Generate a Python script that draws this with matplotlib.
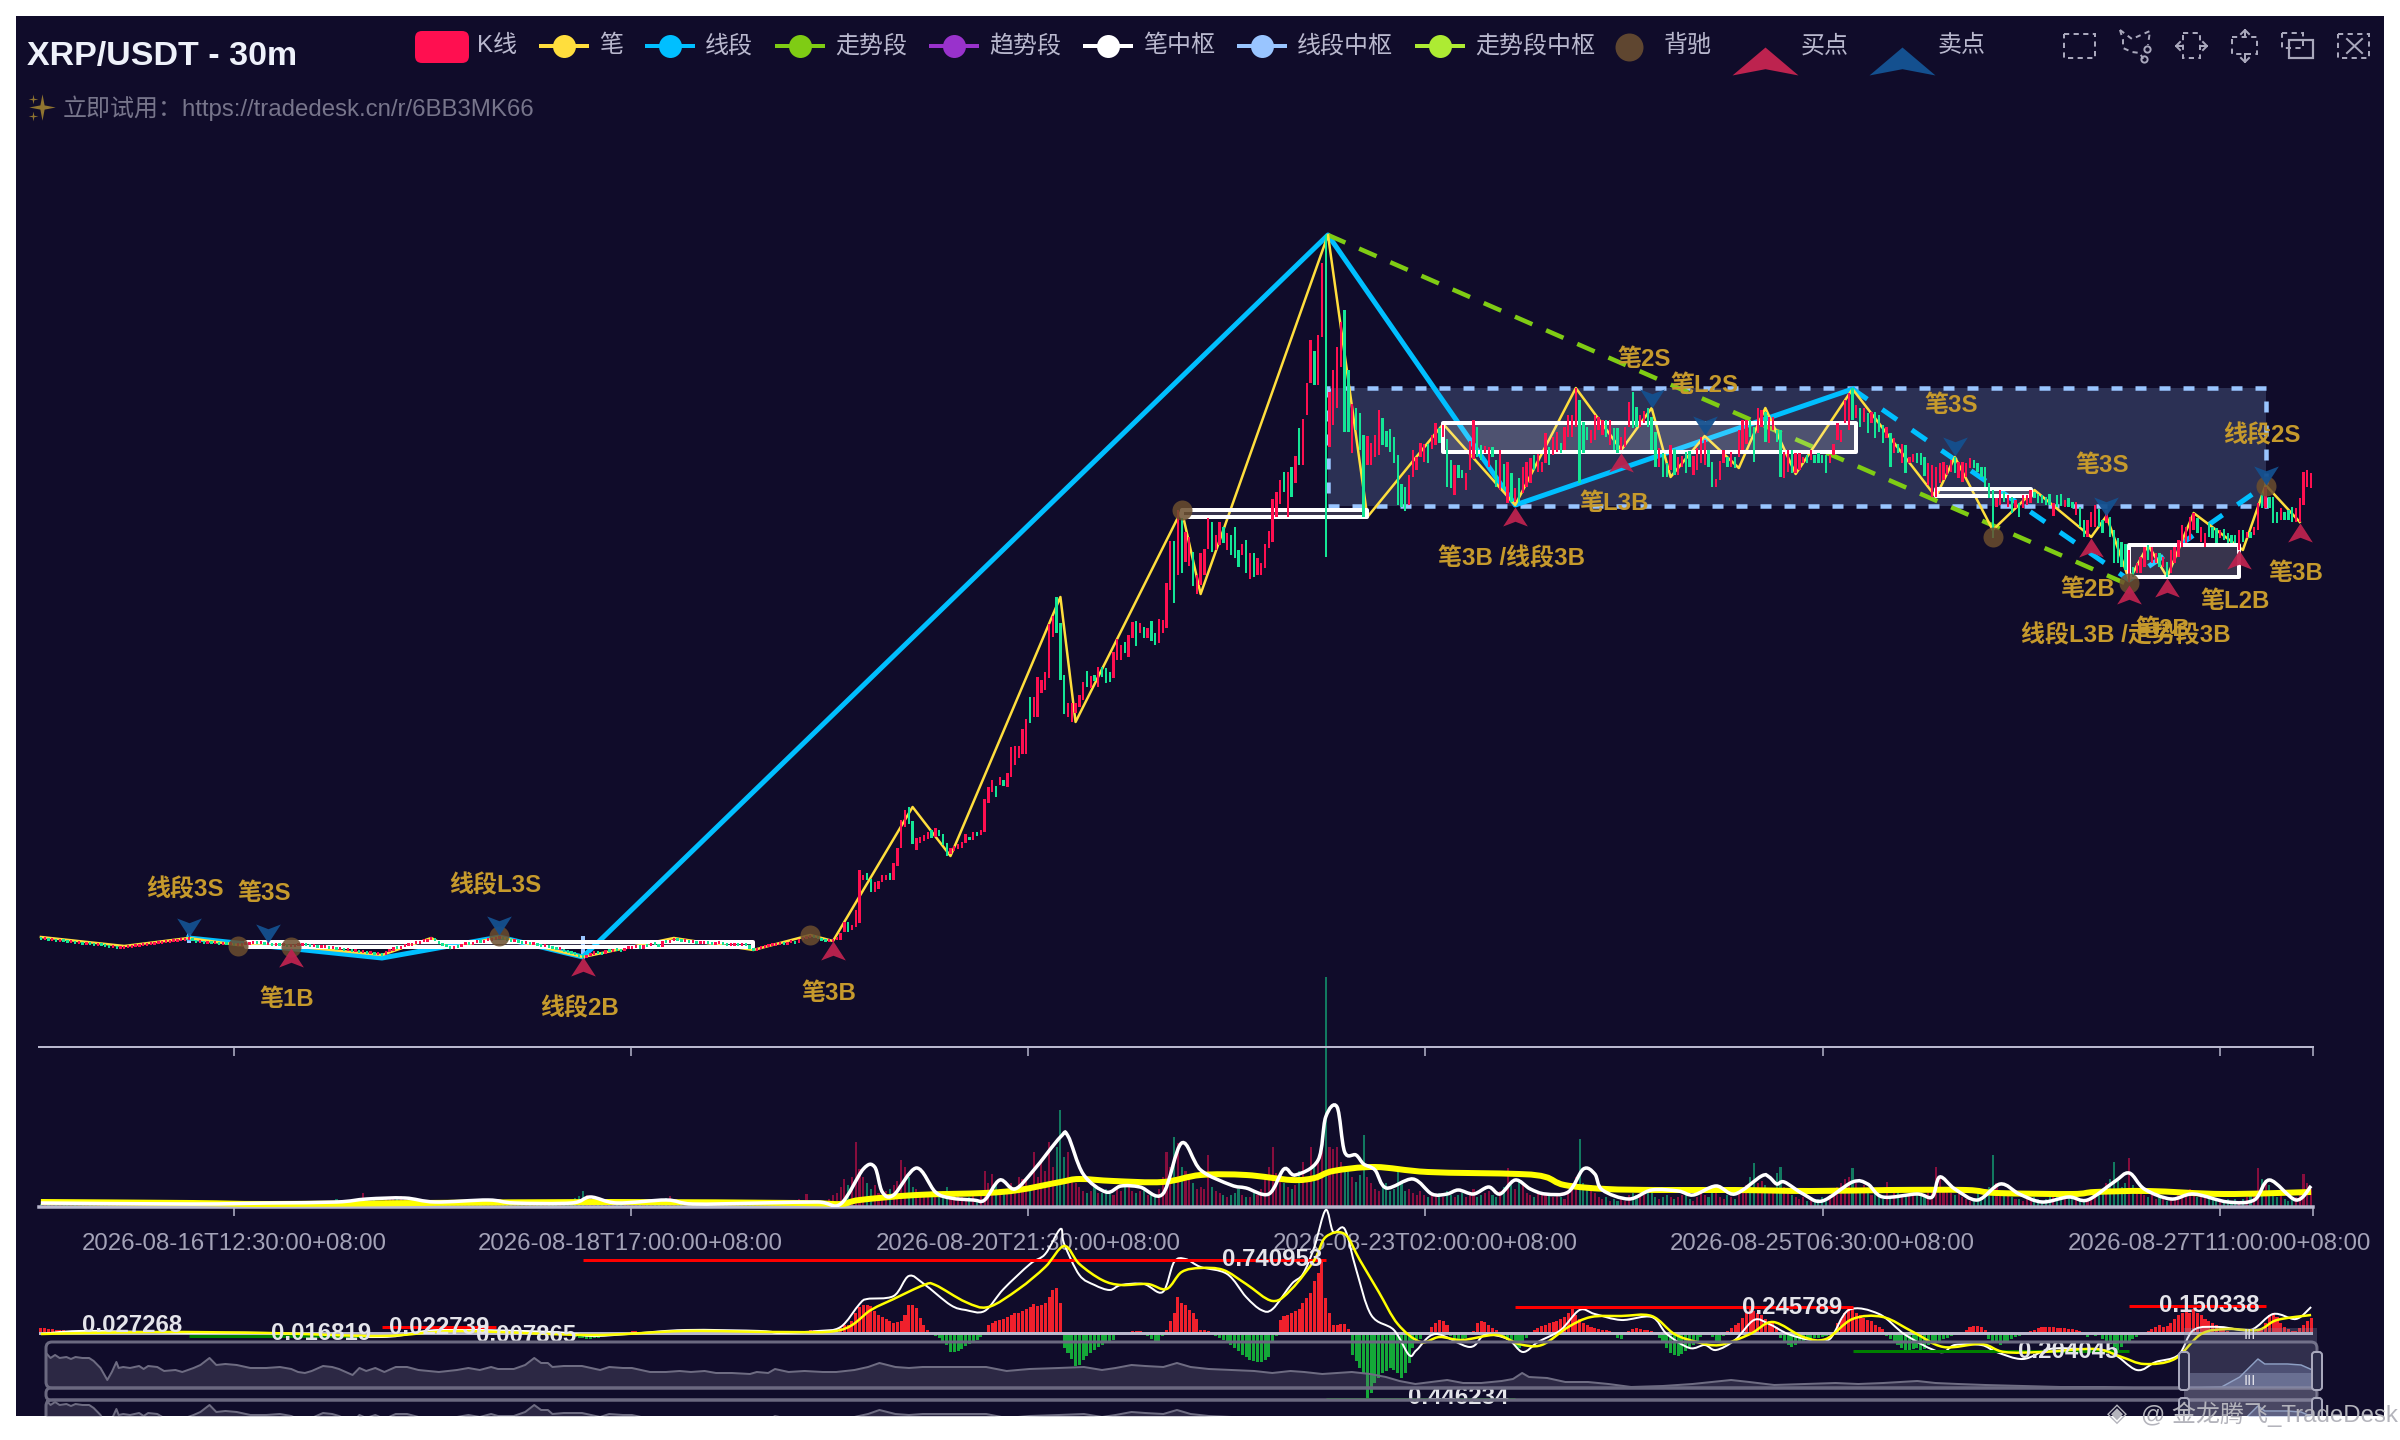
import numpy as np
import matplotlib
matplotlib.use('Agg')
import matplotlib.pyplot as plt
from matplotlib import font_manager
from matplotlib.ft2font import FT2Font
from matplotlib.path import Path
from matplotlib.patches import Rectangle, FancyBboxPatch, PathPatch

W, H = 2400, 1440
PX = 0.72  # one pixel in points at dpi 100

plt.rcParams['font.family'] = ['Liberation Sans', 'Noto Sans CJK SC', 'DejaVu Sans']

# candle bars (price read as height above the main axis)
k_open = [
    110,108,108,107,107,106,107,106,105,105,104,104,103,104,103,102,103,102,101,100,100,99,99,
    100,100,101,101,102,102,103,103,104,104,105,105,106,106,107,107,108,
    109,106,105,105,104,105,104,104,103,104,103,103,102,
    102,103,103,104,105,104,104,103,103,102,103,102,102,101,
    101,102,102,103,102,101,101,100,100,101,99,99,98,98,97,97,96,96,95,95,94,94,93,93,
    92,96,96,100,99,101,102,102,104,104,106,106,108,
    109,106,104,102,101,
    99,101,100,103,104,103,105,106,105,107,107,108,109,
    110,108,107,106,106,105,104,105,103,103,102,101,102,100,99,98,98,96,95,94,93,91,
    90,92,92,96,94,93,97,96,98,97,96,99,99,100,102,98,102,101,104,103,100,106,105,107,
    109,107,106,106,105,105,104,104,105,104,103,104,105,103,102,102,103,102,104,102,98,
    97,99,100,101,102,102,103,104,103,105,106,104,108,109,110,
    112,110,109,107,106,
    106,107,107,115,125,117,120,124,167,174,168,155,158,165,167,174,167,181,199,220,
    240,226,197,204,206,208,217,210,217,213,204,193,196,198,199,204,210,207,215,212,
    215,244,255,261,262,267,260,270,282,289,293,293,350,330,330,354,357,369,410,450,
    424,372,330,325,334,340,347,376,359,372,360,380,379,375,369,387,387,405,390,409,
    426,414,420,409,426,414,404,414,419,457,506,472,529,485,481,495,453,462,472,498,
    525,497,502,520,497,512,520,497,492,507,468,494,472,472,479,499,505,530,543,575,
    530,580,564,619,582,632,664,696,662,710,812,600,622,639,680,737,677,594,639,634,
    612,582,582,590,592,629,616,618,610,592,563,560,542,570,577,590,585,603,598,602,
    619,610,608,587,552,582,577,557,577,588,620,602,594,580,600,587,557,583,544,574,
    545,569,554,560,564,592,575,575,584,600,592,595,604,597,610,610,620,647,625,620,
    604,607,617,612,627,602,619,619,597,600,620,655,640,620,624,639,630,615,580,594,
    584,577,598,572,580,595,596,572,577,584,582,597,585,560,567,584,590,580,590,590,
    597,603,627,620,614,620,635,604,617,617,617,569,575,597,574,577,584,592,587,592,
    594,592,592,584,592,607,605,624,617,659,629,639,625,634,624,635,632,622,609,614,
    594,603,584,602,584,585,594,594,590,562,550,550,564,567,572,575,590,569,565,570,
    579,587,584,580,580,564,557,540,542,555,540,550,539,544,539,542,544,555,553,552,
    550,553,531,552,553,540,549,545,532,540,527,510,520,520,538,527,524,530,517,509,
    505,503,465,480,474,474,480,502,484,484,494,480,485,474,484,490,500,504,507,517,
    529,505,500,524,520,519,509,518,514,512,512,497,517,509,515,512,517,554,539,550,
    550,535,527,535,537,540,525,525,542,560,559,
]
k_close = [
    108,108,107,107,106,106,106,105,105,104,104,103,103,103,102,102,102,101,100,100,99,99,100,
    100,101,101,102,102,103,103,104,104,105,105,106,106,107,107,108,109,
    106,105,105,104,105,104,104,103,104,103,103,102,102,
    103,103,104,105,104,104,103,103,102,103,102,102,101,101,
    102,102,103,102,101,101,100,100,101,99,99,98,98,97,97,96,96,95,95,94,94,93,93,92,
    96,96,100,99,101,102,102,104,104,106,106,108,109,
    106,104,102,101,99,
    101,100,103,104,103,105,106,105,107,107,108,109,110,
    108,107,106,106,105,104,105,103,103,102,101,102,100,99,98,98,96,95,94,93,91,90,
    92,92,96,94,93,97,96,98,97,96,99,99,100,102,98,102,101,104,103,100,106,105,107,109,
    107,106,106,105,105,104,104,105,104,103,104,105,103,102,102,103,102,104,102,98,97,
    99,100,101,102,102,103,104,103,105,106,104,108,109,110,112,
    110,109,107,106,106,
    107,110,114,125,115,122,137,177,172,167,155,165,166,172,172,167,184,199,227,237,
    223,203,209,210,212,215,209,219,211,202,191,199,201,203,205,213,207,215,211,217,
    248,260,267,250,270,261,274,300,301,301,318,328,324,350,370,367,375,423,431,414,
    367,333,344,344,344,352,365,360,371,366,380,370,364,365,395,408,402,394,412,425,
    401,424,409,419,406,402,428,427,464,506,444,537,474,515,510,461,472,494,498,529,
    495,512,525,504,514,492,489,480,503,474,494,470,489,484,503,516,548,555,567,555,
    575,550,591,582,628,664,707,662,712,784,490,655,677,700,725,615,615,643,617,597,
    530,611,604,612,637,602,600,595,584,542,540,536,572,597,590,604,603,584,612,624,
    604,622,560,559,582,569,569,574,606,627,590,587,601,600,590,560,597,557,585,545,
    559,545,580,585,589,577,593,585,614,582,610,615,594,620,632,632,659,564,594,607,
    617,632,630,627,610,627,597,594,610,620,645,619,620,632,636,620,597,580,599,570,
    570,602,572,590,591,574,580,591,599,610,607,580,560,568,586,597,580,595,579,617,
    627,627,610,585,639,637,605,630,630,605,570,595,597,574,594,594,590,584,597,584,
    584,584,574,592,603,624,617,647,654,627,642,620,639,614,635,609,615,604,620,580,
    609,594,603,574,590,593,584,582,571,584,582,580,584,585,582,587,574,585,585,584,
    589,579,575,570,560,549,509,549,557,545,552,534,547,530,552,552,557,549,544,544,
    542,542,544,540,541,547,540,539,545,520,510,527,535,542,520,514,537,510,484,484,
    480,477,497,470,484,490,500,487,500,494,480,490,470,497,500,507,522,520,530,534,
    514,520,514,510,509,504,517,507,504,504,504,517,505,515,509,520,544,539,560,539,
    524,524,539,527,527,525,539,549,575,577,574,
]

# volume bars, same colour as the candle above
volume = [
    3,5,2,4,3,2,4,6,3,2,4,3,5,2,3,4,2,3,5,2,
    4,3,2,3,2,4,2,3,5,2,3,2,4,3,2,3,2,3,4,2,
    1,2,3,2,1,2,3,1,2,2,3,2,2,1,2,3,2,3,2,3,
    5,6,4,3,2,3,2,2,3,4,3,2,3,3,4,5,4,5,8,5,
    4,5,6,8,9,14,8,6,7,5,6,8,9,10,9,11,8,6,5,5,
    3,3,4,5,4,6,5,7,6,5,4,5,6,7,5,4,3,4,4,5,
    7,8,6,5,4,4,3,4,3,3,4,3,2,3,4,4,3,3,4,5,
    7,9,11,16,12,9,7,8,6,5,4,4,5,3,4,3,5,4,3,3,
    4,5,7,6,7,9,11,8,6,5,4,4,3,3,2,4,3,3,4,3,
    3,4,3,3,5,6,4,4,3,3,3,3,2,3,4,3,4,5,6,5,
    8,7,13,6,7,5,4,3,8,12,14,20,28,22,30,65,38,30,24,18,
    22,14,12,16,18,22,26,47,40,30,20,18,14,12,10,14,12,14,16,20,
    10,12,14,10,8,10,12,8,14,36,24,33,22,18,14,18,24,20,30,28,
    26,22,55,30,48,36,65,40,60,97,50,55,30,24,20,16,14,16,20,14,
    14,18,14,12,18,16,20,24,16,14,16,18,12,12,10,18,30,55,40,70,
    64,40,36,30,24,18,20,18,52,20,16,14,12,10,12,14,18,12,10,10,
    14,12,18,30,40,60,34,28,24,20,18,22,36,45,30,60,40,48,60,230,
    60,58,60,45,40,36,30,25,32,72,30,24,18,16,20,24,16,18,40,24,
    16,18,14,12,16,12,10,14,12,14,10,16,12,10,12,14,10,14,18,10,
    12,14,16,12,10,16,20,39,22,18,28,24,14,12,10,14,12,14,12,10,
    12,10,8,14,24,30,68,24,20,22,14,10,8,10,6,8,6,8,6,12,
    14,12,10,12,14,16,10,8,10,12,10,8,10,12,16,8,6,10,14,12,
    10,18,14,10,8,12,10,8,14,18,22,30,44,24,26,22,18,16,34,40,
    20,14,12,10,8,10,6,8,6,8,10,8,12,18,20,24,28,30,39,24,
    18,22,16,12,14,10,8,25,10,14,18,12,10,12,14,18,14,12,20,16,
    40,30,20,16,14,12,16,10,8,6,8,14,10,16,20,52,24,16,12,14,
    10,8,8,6,8,6,10,8,6,8,10,14,10,8,10,12,8,10,8,6,
    8,10,12,14,18,24,28,45,26,20,24,49,22,18,14,12,10,12,8,10,
    8,6,10,8,12,14,16,18,12,10,14,12,8,8,6,8,6,8,6,8,
    6,8,10,12,14,39,28,24,22,14,10,12,8,6,8,10,14,33,24,18,
]
vol_ma5_idx = [0,40,60,78,86,96,104,118,125,140,145,152,165,172,190,205,211,217,220,222,225,231,236,240,246,249,253,257,262,269,271,275,281,285,290,296,301,306,
    314,318,324,328,331,337,339,342,344,347,349,352,355,362,367,371,374,378,382,385,389,393,397,403,407,410,412,419,425,432,436,442,447,454,456,458,460,465,470,478,482,486,495,499,501,505,511,517,522,528,535,540,547,551,555,562,568,577,584,588,595,599]
vol_ma5 = [4,3,4,5,8,9,5,7,4,4,10,4,7,3,4,5,3,38,40,15,12,39,15,9,7,7,27,18,37,70,71,33,15,21,20,13,64,37,
    22,19,13,38,32,47,90,100,55,52,43,37,19,28,13,13,17,13,20,13,27,18,13,15,38,33,17,8,17,16,12,21,13,31,30,23,25,13,6,25,23,10,13,10,30,18,7,23,13,5,10,7,25,34,18,8,13,5,7,27,7,21]
vol_ma20_idx = [0,40,60,100,150,200,211,216,231,249,258,269,274,283,296,306,318,330,336,341,352,366,390,397,402,413,427,447,467,488,508,516,536,542,556,576,599]
vol_ma20 = [5,4,3,4,5,4,3,7,12,14,17,25,28,26,25,32,32,27,29,36,40,35,33,30,22,18,17,17,16,17,17,14,13,15,16,13,15]

# macd histogram, in hundredths
macd_hist = [
    5,5,4,4,3,3,3,2,2,1,
    1,1,1,0,0,1,1,0,0,1,0,0,-1,-1,0,0,-1,0,1,1,1,0,1,1,0,0,1,1,0,0,
    -1,-1,-1,-1,-1,-1,-1,-1,-1,-1,-1,-1,-1,-1,-1,-1,0,0,1,1,1,1,1,0,0,1,1,0,0,-1,-1,-1,0,0,1,1,1,1,1,0,0,-1,-1,-1,-2,-2,
    -3,-3,-3,-3,-2,-2,-1,
    0,1,1,1,1,0,0,1,1,1,1,0,0,1,1,1,0,0,1,1,1,0,0,1,1,0,0,1,
    1,1,1,0,0,0,0,0,0,-1,-1,0,0,0,0,0,-1,-1,-1,-2,
    -4,-5,-5,-6,-6,-5,-5,-3,-2,
    0,0,1,1,1,1,2,2,1,1,1,1,2,2,2,3,3,3,3,2,2,1,1,1,1,1,1,0,0,0,0,0,0,0,
    -1,-2,-2,-2,-1,-1,0,0,0,0,0,0,0,1,1,1,
    2,2,2,3,3,3,3,2,3,3,4,
    5,8,8,12,20,26,28,28,27,22,18,16,14,12,10,11,12,18,28,28,25,15,8,3,
    -1,-3,-5,-8,-12,-19,-19,-18,-16,-13,-11,-9,-7,-4,-2,
    8,10,12,13,14,16,18,20,20,22,24,26,29,27,28,30,36,43,45,30,
    -15,-20,-26,-33,-32,-27,-23,-20,-17,-14,-12,-10,-9,-7,-2,0,0,1,2,2,2,0,-3,-6,-8,-8,-3,
    3,12,20,36,30,28,23,20,14,3,3,2,0,
    -3,-5,-7,-10,-12,-15,-18,-22,-24,-27,-28,-29,-29,-27,-24,-10,-3,
    13,17,18,20,22,24,30,35,40,52,60,73,35,20,8,8,9,9,4,
    -22,-28,-35,-40,-66,-60,-50,-45,-40,-38,-35,-37,-40,-45,-40,-30,-15,-10,-6,-2,0,
    6,10,13,12,8,-3,-6,-9,-10,-5,0,2,10,12,11,8,5,3,0,
    -3,-7,-10,-13,-15,-10,-5,0,
    3,5,7,8,10,11,12,14,16,20,24,18,14,10,8,6,5,4,3,3,2,
    -2,-5,-6,-2,2,4,5,4,3,3,2,-1,
    -5,-10,-15,-20,-22,-23,-21,-18,-14,-12,-9,-4,-1,0,
    -4,-8,-8,-3,2,5,8,10,15,20,25,22,20,18,14,12,10,6,
    -5,-9,-12,-14,-12,-10,-8,-7,-6,-5,-5,-4,-3,-2,1,
    10,14,20,26,24,20,18,15,13,12,8,6,4,
    -3,-6,-8,-12,-15,-17,-18,-16,-15,-17,-16,-12,-10,-8,-8,-6,-5,-3,-2,0,1,
    3,6,7,7,6,3,
    -6,-8,-10,-12,-10,-8,-6,-4,-3,-2,-1,
    2,3,5,6,6,6,6,5,5,5,4,4,3,2,0,
    -4,-2,-3,-2,-6,-8,-11,-14,-18,-14,-10,-8,-6,-4,-2,-1,
    2,4,6,8,6,7,10,14,18,20,22,20,24,20,18,14,12,10,8,5,3,2,
    1,1,1,0,0,1,1,2,5,10,18,20,16,10,6,4,2,2,5,8,12,15,
]
dif_idx = [0,10,30,40,60,90,105,135,145,155,170,190,195,205,211,216,218,225,229,233,240,244,249,254,261,265,269,270,274,278,282,285,291,296,299,302,306,
    313,318,322,325,330,333,336,339,341,344,347,351,357,361,363,368,377,381,387,391,395,401,406,410,417,425,429,435,439,442,447,452,456,461,467,472,477,485,492,501,505,512,516,523,530,538,546,553,558,564,568,575,583,589,595,599]
dif = [-1,2,1,0,0,-4,3,1,-3,-1,3,2,0,2,6,29,34,37,57,49,28,23,22,44,69,79,104,89,58,48,43,48,49,41,71,74,66,
    59,36,23,24,49,59,86,123,101,104,64,18,3,-22,-17,-1,-14,-2,-6,-19,-9,3,23,19,13,16,-1,-15,-12,-17,-7,13,9,-1,-7,-6,23,19,-2,-19,-12,-12,-19,-26,-16,-16,-19,-37,-29,-22,3,6,3,19,14,26]
dea_idx = [0,30,60,90,110,145,170,195,211,219,225,233,236,244,250,258,265,270,274,280,285,292,297,301,306,
    312,318,325,330,336,339,344,348,353,358,364,369,375,384,390,396,403,409,417,425,431,437,443,451,457,465,471,478,486,494,502,512,518,528,542,549,555,563,570,577,585,590,599]
dea = [-1,1,0,-3,2,-2,2,1,3,23,34,48,48,31,26,44,66,87,69,53,48,49,44,61,65,
    63,49,32,44,73,96,99,73,41,9,-9,-4,-7,-2,-11,-12,6,16,17,17,-1,-9,-12,-1,11,-4,-6,14,16,1,-14,-11,-19,-19,-16,-24,-31,-26,-1,4,3,13,18]
macd_label_text = ['0.027268','0.016819','0.022739','0.007865','0.740953','0.446234','0.245789','0.204045','0.150338']
macd_label_idx = [24,74,105,128,325,374,462,535,572]
macd_label_val = [7,-1,6,-3,73,-64,26,-18,28]
macd_max_from = [90,143,389,551]
macd_max_to = [120,339,478,587]
macd_max_val = [6,73,26,27]
macd_min_from = [39,339,478]
macd_min_to = [86,389,551]
macd_min_val = [-3,-66,-18]

# 笔 / 线段 / 走势段
bi_idx = [0,22,39,52,66,90,103,108,121,143,167,188,203,209,230,240,269,273,301,306,339.6,350,370,389,405,417,425,430,439,448,455,463,478,500,505,515,526,541,545,551,556,561,568,581,587,596]
bi_val = [110,101,109,102,101,92,109,99,110,90,109,97,112,106,240,191,450,325,537,453,812,530,623,542,659,597,639,570,611,579,639,573,658,550,590,517,557,510,531,467,502,470,534,497,562,525]
seg_idx = [39,90,121,143,339.6,389,478]
seg_val = [109,89,110,90,812,542,658]
seg_dash_idx = [478,551,587]
seg_dash_val = [658,467,562]
trend_idx = [339.6,551]
trend_val = [812,462]

# 中枢 boxes: left, right, low, high
zs_left = [54,301,370,500,551]
zs_right = [188,350,479,525,580]
zs_low = [100,530,595,551,470]
zs_high = [105,537,624,558,502]
seg_zs = [339.6,587,541,659]

beichi_idx = [52,66,121,203,301,515,551,587]
beichi_val = [101,100,111,112,537,510,464,561]
buy_idx = [66,143,209,389,417,541,551,561,580,596]
buy_val = [99,90,106,540,594,509,462,469,497,524]
sell_idx = [39,60,121,425,439,505,545,587]
sell_val = [110,104,112,639,612,591,531,562]
mark_text = ['线段3S','笔3S','线段L3S','笔1B','线段2B','笔3B','笔2S','笔L2S','笔L3B','笔3B /线段3B','笔3S','笔3S','线段2S','笔2B','笔L2B','笔3B','笔2B','线段L3B /走势段3B']
mark_idx = [38,59,120,65,142,208,423,439,415,388,504,544,586,540,579,595,560,550]
mark_val = [157,153,161,48,38,53,688,661,543,488,641,581,611,457,446,473,418,411]

tick_pos = [50.9,155.6,260.5,365.3,470.1,574.9,599.5]
tick_labels = ['2026-08-16T12:30:00+08:00','2026-08-18T17:00:00+08:00','2026-08-20T21:30:00+08:00','2026-08-23T02:00:00+08:00','2026-08-25T06:30:00+08:00','2026-08-27T11:00:00+08:00','']

# data shadow of the zoom slider, position in percent of its width
shadow_pos = [0,.2,.4,.6,.9,1.1,1.3,1.6,1.9,2.1,2.4,2.7,2.9,3.1,3.2,3.4,3.7,4.1,4.3,4.5,4.9,5.2,5.7,6,6.5,6.8,7.2,7.5,7.9,8.4,9,9.7,10.3,10.8,11.1,11.4,11.7,12.2,12.6,12.9,13.2,13.5,13.8,14.1,14.5,14.9,15.4,15.9,16.4,17.3,18.1,18.6,19.1,19.6,19.9,20.6,21.1,21.5,21.8,22.1,22.3,22.8,23.6,24.4,24.8,25.4,25.8,26.6,27.3,27.9,28.4,29,29.5,30.2,31,31.3,31.8,32.1,32.7,33.4,34.2,34.8,35.6,36.2,36.7,37.4,38,38.6,39.4,40.4,41.4,42.3,43.3,44.6,45.7,46.5,47.1,47.8,48.4,49.2,49.8,
    50.4,51.2,52.2,53.2,54,54.8,55.4,56.2,57.5,58.3,59,59.6,60.3,61,61.7,62.4,63.2,64.1,64.6,65,65.3,66.1,66.9,67.9,68.8,69.8,71.2,72.5,74.2,75,76.1,77.4,78.8,79.8,80.9,82.4,83.2,84.2,85.4,87.1,88.7,90.6,91.9,93.8]
shadow_val = [35,30,33,30,31,29,31,30,30,27,20,8,16,26,20,21,20,22,19,22,21,17,18,16,20,23,30,23,24,23,20,20,21,19,16,15,17,22,21,19,16,13,20,17,20,16,21,21,18,16,18,20,18,21,19,19,23,30,25,25,21,22,22,18,21,20,20,16,16,17,16,17,15,15,14,16,15,19,16,17,16,16,18,21,25,21,20,21,21,21,21,17,19,20,21,18,20,23,22,21,25,
    21,19,18,17,15,17,16,14,16,14,11,7,4,6,8,5,5,7,9,15,11,10,6,6,4,1,2,4,8,6,3,4,5,4,5,7,5,4,3,2,1,1,0,0]
shadow_sel_pos = [93.8,94.5,95.8,96.6,97.4,97.7,98.7,99.3,99.8]
shadow_sel_val = [0,0,1,11,29,24,24,23,18]

legend_text = ['笔','线段','走势段','趋势段','笔中枢','线段中枢','走势段中枢']
legend_x = [539,645,775,929,1083,1237,1415]
legend_colors = ['#ffde3d','#00bfff','#7fcc14','#9932cc','#ffffff','#99c5ff','#adeb33']

BG = '#100c2a'
AXIS = '#b9b8ce'
UP = '#ff0f50'
DOWN = '#14e696'
GOLD = '#c69a2c'
ICON = '#a9a8bc'


def px_axes(fig, x0, y0, x1, y1, z):
    # axes given in picture pixels, y going down
    ax = fig.add_axes([x0 / W, 1 - y1 / H, (x1 - x0) / W, (y1 - y0) / H], zorder=z)
    ax.set_facecolor('none')
    return ax


def arrow_path(direction):
    # tip at the origin, notch on the wide end
    return Path([(0, 0), (0.65, direction), (0, 0.75 * direction), (-0.65, direction), (0, 0)], closed=True)


def bare_axis(ax):
    for side in ['top', 'left', 'right']:
        ax.spines[side].set_visible(False)
    ax.yaxis.set_visible(False)


def dashes(on, off, lw):
    return (0, (on / lw, off / lw))


def smooth_line(ax, xs, ys, **kw):
    # same look as a "smooth" series: bezier through the read points
    x = np.array(xs, dtype=float)
    y = np.array(ys, dtype=float)
    n = len(x)
    verts = [(x[0], y[0])]
    codes = [Path.MOVETO]
    for i in range(n - 1):
        a, b = max(i - 1, 0), min(i + 2, n - 1)
        verts.append((x[i] + (x[i + 1] - x[a]) / 6, y[i] + (y[i + 1] - y[a]) / 6))
        verts.append((x[i + 1] - (x[b] - x[i]) / 6, y[i + 1] - (y[b] - y[i]) / 6))
        verts.append((x[i + 1], y[i + 1]))
        codes += [Path.CURVE4] * 3
    ax.add_patch(PathPatch(Path(verts, codes), fill=False, **kw))


def family_with(ch):
    # first installed family that really has this character
    for fam in ['Noto Sans', 'Noto Sans CJK SC', 'Roboto', 'Open Sans', 'Lato', 'Inter', 'Liberation Sans', 'DejaVu Sans']:
        try:
            if FT2Font(font_manager.findfont(fam, fallback_to_default=False)).get_char_index(ord(ch)):
                return fam
        except ValueError:
            pass
    return None


fig = plt.figure(figsize=(W / 100, H / 100), dpi=100, facecolor='white')

bg = px_axes(fig, 0, 0, W, H, 0)
bg.set_xlim(0, W)
bg.set_ylim(H, 0)
bg.axis('off')
bg.add_patch(Rectangle((16, 16), 2368, 1400, color=BG, lw=0))

idx = np.arange(len(k_open))
opens = np.array(k_open)
closes = np.array(k_close)
bar_colors = [UP if c >= o else DOWN for o, c in zip(opens, closes)]

# volume
vol = px_axes(fig, 39, 960, 2313, 1207, 2)
vol.bar(np.arange(len(volume)), volume, width=0.55, color=bar_colors, alpha=0.5, lw=0)
smooth_line(vol, vol_ma20_idx, vol_ma20, edgecolor='#ffff00', lw=6 * PX, zorder=4)
smooth_line(vol, vol_ma5_idx, vol_ma5, edgecolor='#ffffff', lw=3.5 * PX, zorder=5)
vol.set_xlim(-0.5, 599.5)
vol.set_ylim(0, 247)
bare_axis(vol)
vol.spines['bottom'].set_color(AXIS)
vol.spines['bottom'].set_linewidth(3.5 * PX)
vol.set_xticks(tick_pos, tick_labels, fontsize=24 * PX, color='#a4a3b8')
vol.tick_params(axis='x', length=9 * PX, width=1.5 * PX, color=AXIS, pad=17 * PX)

# main chart
ax = px_axes(fig, 39, 90, 2313, 1047, 3)
ax.set_xlim(-0.5, 599.5)
ax.set_ylim(0, 957)
bare_axis(ax)
ax.spines['bottom'].set_color(AXIS)
ax.spines['bottom'].set_linewidth(2 * PX)
ax.set_xticks(tick_pos, [''] * len(tick_pos))
ax.tick_params(axis='x', length=9 * PX, width=1.5 * PX, color=AXIS)

ax.add_patch(Rectangle((seg_zs[0], seg_zs[2]), seg_zs[1] - seg_zs[0], seg_zs[3] - seg_zs[2],
                       facecolor='#99c5ff', alpha=0.2, lw=0, zorder=1))
ax.add_patch(Rectangle((seg_zs[0], seg_zs[2]), seg_zs[1] - seg_zs[0], seg_zs[3] - seg_zs[2],
                       fill=False, edgecolor='#99c5ff', lw=4.5 * PX, ls=dashes(11, 13, 4.5), zorder=2))
ax.plot([143, 143], [90, 109], color='#99c5ff', lw=4 * PX, zorder=2)
ax.plot([39, 39], [106, 112], color='#99c5ff', lw=4 * PX, zorder=2)

# very small bodies still show as a dot of 3 px
body = np.abs(closes - opens)
low = np.minimum(opens, closes)
ax.bar(idx, np.maximum(body, 3), bottom=np.where(body < 3, low - 1, low), width=0.62, color=bar_colors, lw=0, zorder=6.5)

ax.plot(bi_idx, bi_val, color='#ffde3d', lw=2.5 * PX, solid_joinstyle='round', zorder=5)
ax.plot(seg_idx, seg_val, color='#00bfff', lw=5 * PX, solid_joinstyle='round', zorder=4)
ax.plot(seg_dash_idx, seg_dash_val, color='#00bfff', lw=5 * PX, ls=dashes(18, 18, 5), zorder=4)
ax.plot(trend_idx, trend_val, color='#7fcc14', lw=4.5 * PX, ls=dashes(19, 15, 4.5), zorder=4)

for left, right, zlow, zhigh in zip(zs_left, zs_right, zs_low, zs_high):
    ax.add_patch(Rectangle((left, zlow), right - left, zhigh - zlow, facecolor='#ffffff', alpha=0.17, lw=0, zorder=6))
    ax.add_patch(Rectangle((left, zlow), right - left, zhigh - zlow, fill=False, edgecolor='#ffffff',
                           lw=4 * PX, joinstyle='round', zorder=6))

ax.plot(beichi_idx, beichi_val, 'o', color='#6b4e2e', alpha=0.85, ms=20 * PX, mew=0, zorder=7)
ax.plot(buy_idx, buy_val, ls='none', marker=arrow_path(-1), color='#bd234f', ms=27.4, mew=0, alpha=0.95, zorder=8)
ax.plot(sell_idx, sell_val, ls='none', marker=arrow_path(1), color='#14508f', ms=27.4, mew=0, alpha=0.95, zorder=8)
for text, x, y in zip(mark_text, mark_idx, mark_val):
    ax.text(x, y, text, color=GOLD, fontsize=24 * PX, fontweight='bold', ha='center', va='center', zorder=9)

# macd
macd = px_axes(fig, 39, 1180, 2313, 1416, 4)
macd.set_xlim(-0.5, 599.5)
macd.set_ylim(-83, 153)
macd.axis('off')
hist = np.array(macd_hist)
macd.bar(np.arange(len(hist)), hist, width=0.8, color=['#f0202c' if h >= 0 else '#14a838' for h in hist], lw=0, zorder=1)
macd.axhline(0, color=AXIS, lw=3 * PX, zorder=2)
smooth_line(macd, dif_idx, dif, edgecolor='#ffffff', lw=2 * PX, zorder=3)
smooth_line(macd, dea_idx, dea, edgecolor='#ffff00', lw=2.5 * PX, zorder=4)
macd.hlines(macd_max_val, macd_max_from, macd_max_to, color='#ff0000', lw=3 * PX, zorder=3)
macd.hlines(macd_min_val, macd_min_from, macd_min_to, color='#008000', lw=3 * PX, zorder=3)
for text, x, y in zip(macd_label_text, macd_label_idx, macd_label_val):
    macd.text(x, y, text, color='#e4e4ea', fontsize=24 * PX, fontweight='bold', ha='center', va='center', zorder=5)

# slider shadows, the second one is cut by the bottom of the canvas
top = px_axes(fig, 0, 0, W, H, 8)
top.set_xlim(0, W)
top.set_ylim(H, 0)
top.axis('off')
for y0, y1, ylow, yhigh in [(1342, 1388, 0, 46), (1400, 1416, 19, 35)]:
    sh = px_axes(fig, 46, y0, 2317, y1, 6)
    sh.set_xlim(0, 100)
    sh.set_ylim(ylow, yhigh)
    sh.axis('off')
    sh.fill_between(shadow_pos, shadow_val, -5, color='#6e6c82', alpha=0.3, lw=0)
    sh.plot(shadow_pos, shadow_val, color='#6e6c82', lw=2 * PX)
    sh.fill_between(shadow_sel_pos, shadow_sel_val, -5, color='#7f93c8', alpha=0.35, lw=0)
    sh.plot(shadow_sel_pos, shadow_sel_val, color='#8fa8d0', lw=1.5 * PX)

frame = '#6b6980'
canvas = Rectangle((16, 16), 2368, 1400, transform=top.transData)
for y, h, r in [(1342, 46, 6), (1388, 12, 5), (1400, 46, 6)]:
    p = FancyBboxPatch((46, y), 2271, h, boxstyle='round,pad=0,rounding_size=%d' % r,
                       fill=False, edgecolor=frame, lw=3 * PX)
    top.add_patch(p)
    p.set_clip_path(canvas)

# selected window of the slider
top.add_patch(Rectangle((2184, 1328), 133, 60, facecolor='#8a8aa8', alpha=0.28, lw=0))
top.add_patch(Rectangle((2184, 1373), 133, 15, facecolor='#a0aacc', alpha=0.35, lw=0))
top.add_patch(Rectangle((2184, 1388), 133, 28, facecolor='#9a9ab4', alpha=0.42, lw=0))
for hx in [2184, 2317]:
    for hy, hh in [(1352, 38), (1398, 30)]:
        p = FancyBboxPatch((hx - 5, hy), 10, hh, boxstyle='round,pad=0,rounding_size=3',
                           facecolor='#2a2a48', edgecolor='#a8a8bc', lw=2 * PX)
        top.add_patch(p)
        p.set_clip_path(canvas)
for my in [1335, 1381]:
    top.text(2250, my, 'III', color='#e0e0e8', fontsize=15 * PX, ha='center', va='center')

# title and legend
top.text(27, 56, 'XRP/USDT - 30m', color='#eef1fa', fontsize=34 * PX, fontweight='bold', va='center')
spark = family_with('✨')
if spark:
    top.text(26, 108, '✨', color='#8c7232', fontsize=22 * PX, va='center', family=spark)
else:
    # no installed family has the sparkle, so it is drawn as star shapes
    star = Path([(0, 1), (0.16, 0.16), (1, 0), (0.16, -0.16), (0, -1), (-0.16, -0.16), (-1, 0), (-0.16, 0.16), (0, 1)], closed=True)
    top.plot([42], [107], ls='none', marker=star, color='#8f7430', ms=19, mew=0)
    top.plot([33, 33], [99, 116], ls='none', marker=star, color='#8f7430', ms=7, mew=0)
top.text(63, 108, '立即试用：https://tradedesk.cn/r/6BB3MK66', color='#77758b', fontsize=24 * PX, va='center')

top.add_patch(FancyBboxPatch((415, 31), 54, 32, boxstyle='round,pad=0,rounding_size=7', facecolor=UP, lw=0))
top.text(477, 46, 'K线', color=AXIS, fontsize=24 * PX, va='center')
for text, x, color in zip(legend_text, legend_x, legend_colors):
    top.plot([x, x + 50], [46, 46], color=color, lw=4 * PX, solid_capstyle='butt')
    top.plot([x + 25], [46], 'o', color=color, ms=23 * PX, mew=0)
    top.text(x + 60, 46, text, color=AXIS, fontsize=24 * PX, va='center')
top.plot([1629], [47], 'o', color='#5f4630', ms=28 * PX, mew=0)
top.text(1664, 46, '背驰', color=AXIS, fontsize=24 * PX, va='center')
wide_arrow = Path([(0, 1), (2.36, -1), (0, -0.55), (-2.36, -1), (0, 1)], closed=True)
top.plot([1765], [61], ls='none', marker=wide_arrow, color='#bd234f', ms=47.5, mew=0)
top.text(1801, 46, '买点', color=AXIS, fontsize=24 * PX, va='center')
top.plot([1902], [61], ls='none', marker=wide_arrow, color='#14508f', ms=47.5, mew=0)
top.text(1937, 46, '卖点', color=AXIS, fontsize=24 * PX, va='center')

# toolbox icons
icon_dash = dict(fill=False, edgecolor=ICON, lw=2 * PX, ls=(0, (2.6, 2.2)))
icon_line = dict(color=ICON, lw=2 * PX)
top.add_patch(Rectangle((2064, 34), 31, 24, **icon_dash))
top.plot([2120, 2123, 2123, 2132, 2140, 2143], [30, 40, 48, 52, 53, 59], ls=(0, (2.6, 2.2)), **icon_line)
top.plot([2120, 2132, 2150, 2148], [30, 39, 31, 45], ls=(0, (2.6, 2.2)), **icon_line)
top.plot([2144, 2147], [59, 49], ls='none', marker='o', ms=4.5, mfc='none', mec=ICON, mew=1.4)
top.add_patch(Rectangle((2183, 33), 17, 25, **icon_dash))
top.plot([2180, 2176, 2180], [42, 46, 50], **icon_line)
top.plot([2176, 2183], [46, 46], **icon_line)
top.plot([2203, 2207, 2203], [42, 46, 50], **icon_line)
top.plot([2200, 2207], [46, 46], **icon_line)
top.add_patch(Rectangle((2232, 37), 25, 17, **icon_dash))
top.plot([2241, 2245, 2249], [34, 30, 34], **icon_line)
top.plot([2245, 2245], [30, 37], **icon_line)
top.plot([2241, 2245, 2249], [58, 62, 58], **icon_line)
top.plot([2245, 2245], [54, 62], **icon_line)
top.add_patch(Rectangle((2282, 33), 21, 15, **icon_dash))
top.add_patch(Rectangle((2289, 40), 24, 18, fill=False, edgecolor=ICON, lw=2.2 * PX))
top.add_patch(Rectangle((2338, 34), 31, 24, **icon_dash))
top.plot([2347, 2362], [39, 53], **icon_line)
top.plot([2362, 2347], [39, 53], **icon_line)

# watermark runs over the white margin
top.text(2107, 1414, '◈', color='#b4b4bc', fontsize=26 * PX, va='center', family='DejaVu Sans', clip_on=False)
top.text(2141, 1414, '@ 金龙腾飞_TradeDesk', color='#b4b4bc', fontsize=24 * PX, va='center', clip_on=False)

fig.savefig('out.png', dpi=100, facecolor='white')
plt.close(fig)
